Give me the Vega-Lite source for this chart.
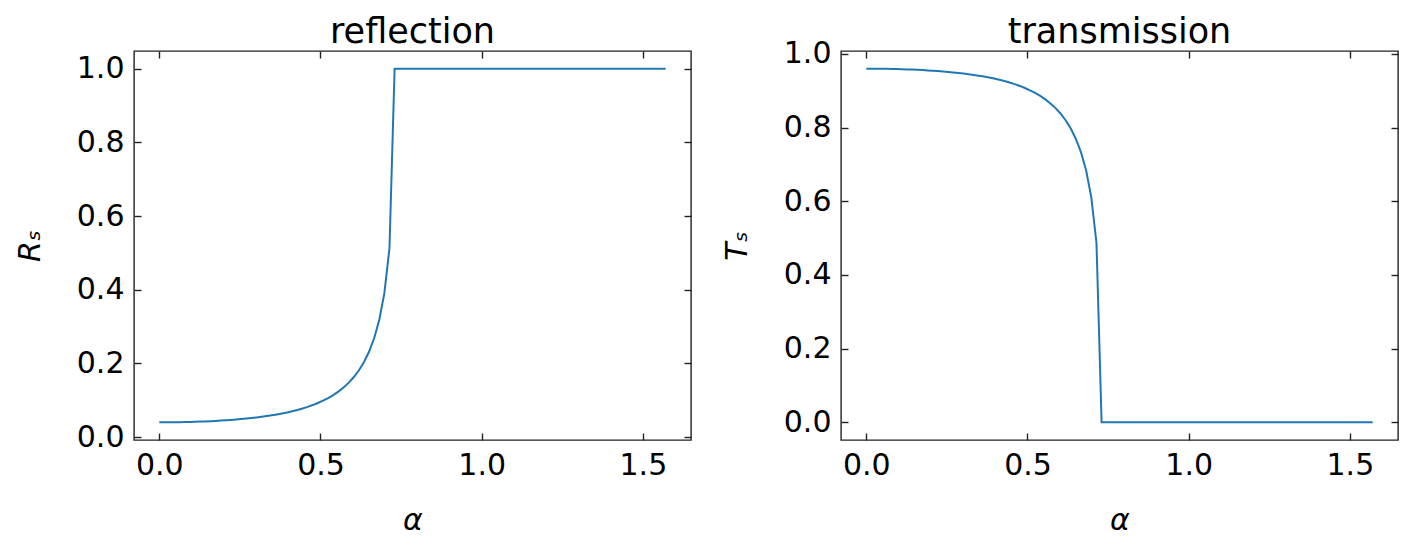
{
  "$schema": "https://vega.github.io/schema/vega-lite/v6.json",
  "padding": {"left": 14, "top": 14, "right": 5, "bottom": 5},
  "data": {
    "values": [
      {"a": 0.0, "R": 0.04, "T": 0.96},
      {"a": 0.0159, "R": 0.04003, "T": 0.95997},
      {"a": 0.0317, "R": 0.04012, "T": 0.95988},
      {"a": 0.0476, "R": 0.04027, "T": 0.95973},
      {"a": 0.0635, "R": 0.04049, "T": 0.95951},
      {"a": 0.0793, "R": 0.04077, "T": 0.95923},
      {"a": 0.0952, "R": 0.04111, "T": 0.95889},
      {"a": 0.1111, "R": 0.04152, "T": 0.95848},
      {"a": 0.1269, "R": 0.042, "T": 0.958},
      {"a": 0.1428, "R": 0.04255, "T": 0.95745},
      {"a": 0.1587, "R": 0.04318, "T": 0.95682},
      {"a": 0.1745, "R": 0.04389, "T": 0.95611},
      {"a": 0.1904, "R": 0.04468, "T": 0.95532},
      {"a": 0.2063, "R": 0.04557, "T": 0.95443},
      {"a": 0.2221, "R": 0.04655, "T": 0.95345},
      {"a": 0.238, "R": 0.04764, "T": 0.95236},
      {"a": 0.2539, "R": 0.04884, "T": 0.95116},
      {"a": 0.2697, "R": 0.05017, "T": 0.94983},
      {"a": 0.2856, "R": 0.05162, "T": 0.94838},
      {"a": 0.3015, "R": 0.05323, "T": 0.94677},
      {"a": 0.3173, "R": 0.05499, "T": 0.94501},
      {"a": 0.3332, "R": 0.05693, "T": 0.94307},
      {"a": 0.3491, "R": 0.05906, "T": 0.94094},
      {"a": 0.3649, "R": 0.06142, "T": 0.93858},
      {"a": 0.3808, "R": 0.06401, "T": 0.93599},
      {"a": 0.3967, "R": 0.06688, "T": 0.93312},
      {"a": 0.4125, "R": 0.07006, "T": 0.92994},
      {"a": 0.4284, "R": 0.07359, "T": 0.92641},
      {"a": 0.4443, "R": 0.07752, "T": 0.92248},
      {"a": 0.4601, "R": 0.08191, "T": 0.91809},
      {"a": 0.476, "R": 0.08683, "T": 0.91317},
      {"a": 0.4919, "R": 0.09238, "T": 0.90762},
      {"a": 0.5077, "R": 0.09864, "T": 0.90136},
      {"a": 0.5236, "R": 0.10577, "T": 0.89423},
      {"a": 0.5395, "R": 0.11393, "T": 0.88607},
      {"a": 0.5553, "R": 0.12334, "T": 0.87666},
      {"a": 0.5712, "R": 0.13427, "T": 0.86573},
      {"a": 0.5871, "R": 0.1471, "T": 0.8529},
      {"a": 0.6029, "R": 0.16235, "T": 0.83765},
      {"a": 0.6188, "R": 0.18072, "T": 0.81928},
      {"a": 0.6347, "R": 0.20326, "T": 0.79674},
      {"a": 0.6505, "R": 0.23156, "T": 0.76844},
      {"a": 0.6664, "R": 0.26823, "T": 0.73177},
      {"a": 0.6823, "R": 0.31796, "T": 0.68204},
      {"a": 0.6981, "R": 0.39051, "T": 0.60949},
      {"a": 0.714, "R": 0.51312, "T": 0.48688},
      {"a": 0.7299, "R": 1, "T": 0},
      {"a": 0.7457, "R": 1, "T": 0},
      {"a": 0.7616, "R": 1, "T": 0},
      {"a": 0.7775, "R": 1, "T": 0},
      {"a": 0.7933, "R": 1, "T": 0},
      {"a": 0.8092, "R": 1, "T": 0},
      {"a": 0.8251, "R": 1, "T": 0},
      {"a": 0.8409, "R": 1, "T": 0},
      {"a": 0.8568, "R": 1, "T": 0},
      {"a": 0.8727, "R": 1, "T": 0},
      {"a": 0.8885, "R": 1, "T": 0},
      {"a": 0.9044, "R": 1, "T": 0},
      {"a": 0.9203, "R": 1, "T": 0},
      {"a": 0.9361, "R": 1, "T": 0},
      {"a": 0.952, "R": 1, "T": 0},
      {"a": 0.9679, "R": 1, "T": 0},
      {"a": 0.9837, "R": 1, "T": 0},
      {"a": 0.9996, "R": 1, "T": 0},
      {"a": 1.0155, "R": 1, "T": 0},
      {"a": 1.0313, "R": 1, "T": 0},
      {"a": 1.0472, "R": 1, "T": 0},
      {"a": 1.0631, "R": 1, "T": 0},
      {"a": 1.0789, "R": 1, "T": 0},
      {"a": 1.0948, "R": 1, "T": 0},
      {"a": 1.1107, "R": 1, "T": 0},
      {"a": 1.1265, "R": 1, "T": 0},
      {"a": 1.1424, "R": 1, "T": 0},
      {"a": 1.1583, "R": 1, "T": 0},
      {"a": 1.1741, "R": 1, "T": 0},
      {"a": 1.19, "R": 1, "T": 0},
      {"a": 1.2059, "R": 1, "T": 0},
      {"a": 1.2217, "R": 1, "T": 0},
      {"a": 1.2376, "R": 1, "T": 0},
      {"a": 1.2535, "R": 1, "T": 0},
      {"a": 1.2693, "R": 1, "T": 0},
      {"a": 1.2852, "R": 1, "T": 0},
      {"a": 1.3011, "R": 1, "T": 0},
      {"a": 1.3169, "R": 1, "T": 0},
      {"a": 1.3328, "R": 1, "T": 0},
      {"a": 1.3487, "R": 1, "T": 0},
      {"a": 1.3645, "R": 1, "T": 0},
      {"a": 1.3804, "R": 1, "T": 0},
      {"a": 1.3963, "R": 1, "T": 0},
      {"a": 1.4121, "R": 1, "T": 0},
      {"a": 1.428, "R": 1, "T": 0},
      {"a": 1.4439, "R": 1, "T": 0},
      {"a": 1.4597, "R": 1, "T": 0},
      {"a": 1.4756, "R": 1, "T": 0},
      {"a": 1.4915, "R": 1, "T": 0},
      {"a": 1.5073, "R": 1, "T": 0},
      {"a": 1.5232, "R": 1, "T": 0},
      {"a": 1.5391, "R": 1, "T": 0},
      {"a": 1.5549, "R": 1, "T": 0},
      {"a": 1.5708, "R": 1, "T": 0}
    ]
  },
  "spacing": 28,
  "hconcat": [
    {
      "title": {"text": "reflection", "offset": 0},
      "width": 557,
      "height": 389,
      "layer": [
        {
          "mark": {"type": "line", "color": "#1f77b4", "strokeWidth": 2},
          "encoding": {
            "x": {
              "field": "a", "type": "quantitative",
              "scale": {"domain": [-0.0785, 1.6493], "nice": false, "zero": false},
              "axis": {"values": [0, 0.5, 1, 1.5], "format": ".1f", "title": "α", "orient": "bottom"}
            },
            "y": {
              "field": "R", "type": "quantitative",
              "scale": {"domain": [-0.008, 1.048], "nice": false, "zero": false},
              "axis": {"values": [0, 0.2, 0.4, 0.6, 0.8, 1], "format": ".1f", "title": "Rₛ", "orient": "left"}
            }
          }
        },
        {
          "mark": {"type": "line", "strokeOpacity": 0},
          "encoding": {
            "x": {
              "field": "a", "type": "quantitative",
              "axis": {"values": [0, 0.5, 1, 1.5], "labels": false, "title": null, "orient": "top", "minExtent": 0}
            },
            "y": {
              "field": "R", "type": "quantitative",
              "axis": {"values": [0, 0.2, 0.4, 0.6, 0.8, 1], "labels": false, "title": null, "orient": "right", "minExtent": 0}
            }
          }
        }
      ],
      "resolve": {"axis": {"x": "independent", "y": "independent"}}
    },
    {
      "title": {"text": "transmission", "offset": -11},
      "width": 557,
      "height": 389,
      "layer": [
        {
          "mark": {"type": "line", "color": "#1f77b4", "strokeWidth": 2},
          "encoding": {
            "x": {
              "field": "a", "type": "quantitative",
              "scale": {"domain": [-0.0785, 1.6493], "nice": false, "zero": false},
              "axis": {"values": [0, 0.5, 1, 1.5], "format": ".1f", "title": "α", "orient": "bottom"}
            },
            "y": {
              "field": "T", "type": "quantitative",
              "scale": {"domain": [-0.048, 1.008], "nice": false, "zero": false},
              "axis": {"values": [0, 0.2, 0.4, 0.6, 0.8, 1], "format": ".1f", "title": "Tₛ", "orient": "left"}
            }
          }
        },
        {
          "mark": {"type": "line", "strokeOpacity": 0},
          "encoding": {
            "x": {
              "field": "a", "type": "quantitative",
              "axis": {"values": [0, 0.5, 1, 1.5], "labels": false, "title": null, "orient": "top", "minExtent": 0}
            },
            "y": {
              "field": "T", "type": "quantitative",
              "axis": {"values": [0, 0.2, 0.4, 0.6, 0.8, 1], "labels": false, "title": null, "orient": "right", "minExtent": 0}
            }
          }
        }
      ],
      "resolve": {"axis": {"x": "independent", "y": "independent"}}
    }
  ],
  "config": {
    "view": {"stroke": "#222222", "strokeWidth": 1.4},
    "font": "DejaVu Sans",
    "axis": {
      "grid": false,
      "domain": false,
      "tickSize": -7,
      "tickWidth": 1.4,
      "tickColor": "#222222",
      "labelFont": "DejaVu Sans",
      "labelFontSize": 30,
      "labelColor": "#000000",
      "labelPadding": 17,
      "titleFont": "DejaVu Sans",
      "titleFontSize": 30,
      "titleFontWeight": "normal",
      "titleFontStyle": "italic",
      "titleColor": "#000000"
    },
    "axisX": {"labelFlush": false, "titlePadding": 25},
    "axisY": {"labelFlush": false, "titlePadding": 31},
    "title": {"font": "DejaVu Sans", "fontSize": 35, "fontWeight": "normal", "color": "#000000"}
  }
}
